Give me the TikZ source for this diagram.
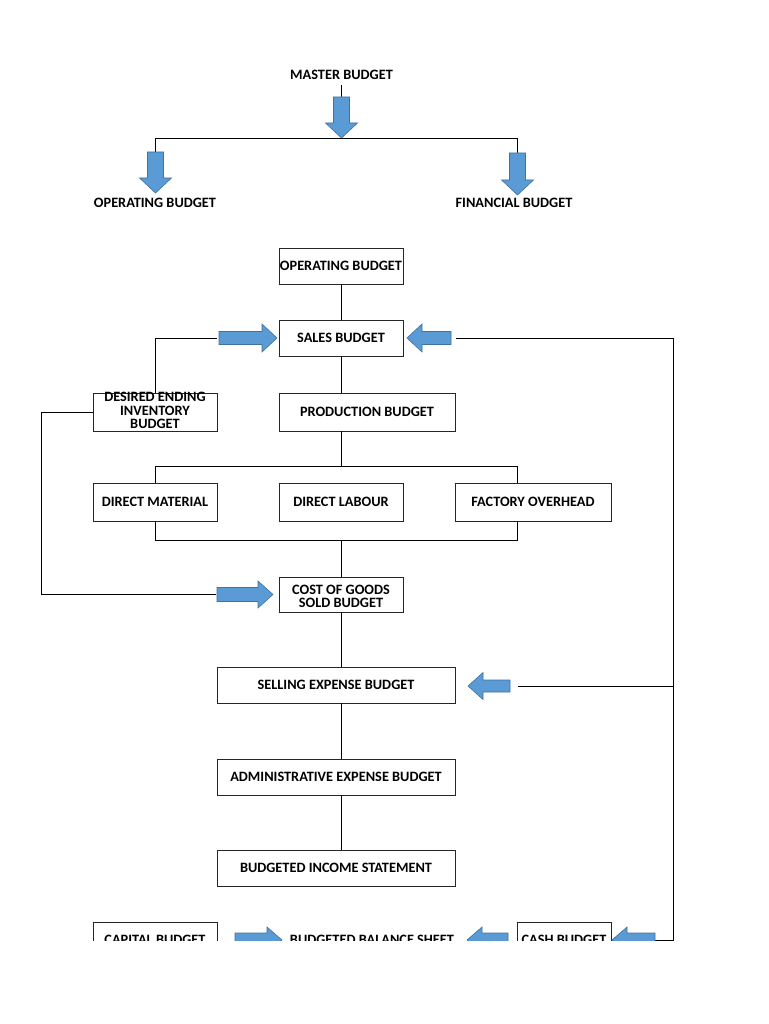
\documentclass[tikz,border=0pt]{standalone}
\usepackage{fontspec}
\setmainfont{Carlito}
\definecolor{ablue}{HTML}{5B9BD5}
\definecolor{ablueedge}{HTML}{41719C}
\tikzset{
  box/.style={draw=black!85, line width=0.8pt, inner sep=0pt, align=center, font=\bfseries\fontsize{14.3}{13.5}\selectfont, minimum height=36},
  lbl/.style={inner sep=0pt, align=center, font=\bfseries\fontsize{14.3}{13.5}\selectfont},
  conn/.style={draw=black, line width=0.8pt},
  barrow/.style={fill=ablue, draw=ablueedge, line width=0.6pt, line join=miter},
}
\newcommand{\BArH}[6]{\filldraw[barrow] (#1,{#4-#5}) -- (#2,{#4-#5}) -- (#2,{#4-#6}) -- (#3,#4) -- (#2,{#4+#6}) -- (#2,{#4+#5}) -- (#1,{#4+#5}) -- cycle;}
\newcommand{\BArV}[6]{\filldraw[barrow] ({#1-#5},#2) -- ({#1-#5},#3) -- ({#1-#6},#3) -- (#1,#4) -- ({#1+#6},#3) -- ({#1+#5},#3) -- ({#1+#5},#2) -- cycle;}
\begin{document}
\begin{tikzpicture}[x=1pt,y=-1pt]
\useasboundingbox[fill=white] (0,0) rectangle (768,1024);
\begin{scope}
\clip (0,0) rectangle (768,940.5);
% ---------- top tree
\node[lbl] (mb) at (341.5,74.5) {MASTER BUDGET};
\node[lbl] (opt) at (155,202.5) {OPERATING BUDGET};
\node[lbl] (fint) at (514,202.5) {FINANCIAL BUDGET};
\coordinate (mtop) at (341.5,85);
\coordinate (mtail) at (341.5,97);
\coordinate (hl) at (155,138);
\coordinate (hr) at (517,138);
\coordinate (la) at (155,152);
\coordinate (ra) at (517,153);
\draw[conn] (mtop) -- (mtail);
\draw[conn] (la) -- (hl) -- (hr) -- (ra);
\BArV{341.5}{97}{123}{138}{8}{16}
\BArV{155.5}{152}{178}{193}{8}{16}
\BArV{517.5}{153}{180}{195}{8}{16}
% ---------- boxes
\node[box, minimum width=124] (ob) at (341,266) {OPERATING BUDGET};
\node[box, minimum width=124] (sb) at (341,338) {SALES BUDGET};
\node[box, minimum width=124, minimum height=38] (dei) at (155,412) {};
\node[lbl] (deit) at (155,410.5) {DESIRED ENDING\\INVENTORY\\BUDGET};
\node[box, minimum width=176, minimum height=38] (pb) at (367,412) {PRODUCTION BUDGET};
\node[box, minimum width=124, minimum height=38] (dm) at (155,502) {DIRECT MATERIAL};
\node[box, minimum width=124, minimum height=38] (dl) at (341,502) {DIRECT LABOUR};
\node[box, minimum width=156, minimum height=38] (fo) at (533,502) {FACTORY OVERHEAD};
\node[box, minimum width=124, minimum height=35] (cogs) at (341,594.5) {};
\node[lbl] (cogst) at (341,596.5) {COST OF GOODS\\SOLD BUDGET};
\node[box, minimum width=238] (seb) at (336,685) {SELLING EXPENSE BUDGET};
\node[box, minimum width=238] (aeb) at (336,777) {ADMINISTRATIVE EXPENSE BUDGET};
\node[box, minimum width=238] (bis) at (336,868) {BUDGETED INCOME STATEMENT};
\node[box, minimum width=124] (cap) at (155,940) {CAPITAL BUDGET};
\node[lbl] (bbs) at (372,940) {BUDGETED BALANCE SHEET};
\node[box, minimum width=94] (cash) at (564,940) {CASH BUDGET};
% ---------- connectors
\coordinate (slin) at (217,338);
\coordinate (srin) at (456,338);
\coordinate (rt) at (673,338);
\coordinate (rm) at (673,686);
\coordinate (rb) at (673,940);
\coordinate (cashin) at (655,940);
\coordinate (sebin) at (518,686);
\coordinate (pj) at (341,466);
\coordinate (pl) at (155,466);
\coordinate (pr) at (517,466);
\coordinate (pfo) at (517,483);
\coordinate (bl) at (155,540);
\coordinate (bm) at (341,540);
\coordinate (br) at (517,540);
\coordinate (bfo) at (517,521);
\coordinate (dl1) at (41,412);
\coordinate (dl2) at (41,594.5);
\coordinate (cin) at (216,594.5);
\draw[conn] (ob) -- (sb);
\draw[conn] (dei.north) |- (slin);
\draw[conn] (srin) -- (rt) -- (rb) -- (cashin);
\draw[conn] (sebin) -- (rm);
\draw[conn] (sb.south) -- (sb.south |- pb.north);
\draw[conn] (sb.south |- pb.south) -- (pj);
\draw[conn] (dm.north) -- (pl) -- (pr) -- (pfo);
\draw[conn] (dm.south) -- (bl) -- (br) -- (bfo);
\draw[conn] (bm) -- (cogs.north);
\draw[conn] (dei.west) -- (dl1) -- (dl2) -- (cin);
\draw[conn] (cogs.south) -- (cogs.south |- seb.north);
\draw[conn] (cogs.south |- seb.south) -- (cogs.south |- aeb.north);
\draw[conn] (cogs.south |- aeb.south) -- (cogs.south |- bis.north);
% ---------- block arrows
\BArH{219}{262}{277}{338}{6.5}{14}
\BArH{451}{422}{407}{338}{6.5}{14}
\BArH{217}{258}{273}{594.5}{7}{13.5}
\BArH{510}{483}{468}{686}{6}{13.5}
\BArH{235}{267}{282}{940}{7}{13}
\BArH{508}{482}{467}{940}{7}{13}
\BArH{655}{627}{612}{940}{7}{13}
\end{scope}
\end{tikzpicture}
\end{document}
